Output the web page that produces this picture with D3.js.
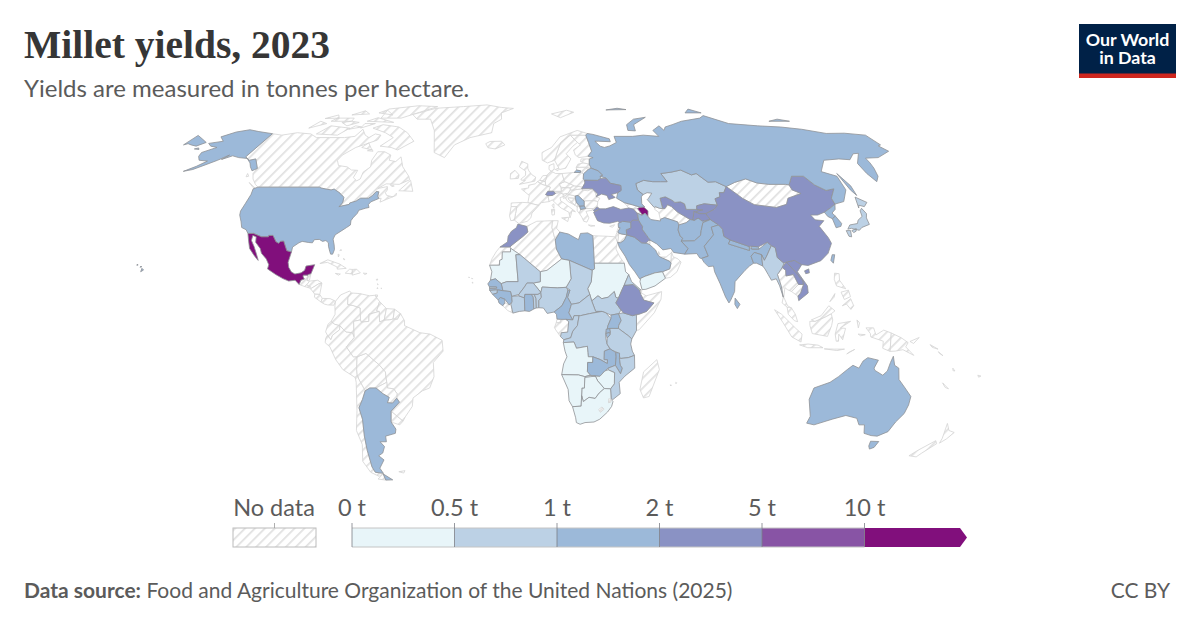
<!DOCTYPE html>
<html>
<head>
<meta charset="utf-8">
<script src="https://cdn.jsdelivr.net/npm/d3@7"></script>
<style>
  html, body { margin: 0; padding: 0; background: #fff; }
  text { font-family: Lato, sans-serif; }
</style>
</head>
<body>
<svg id="chart" width="1200" height="627"></svg>
<script>
// yields in t/ha, read from the map colours (estimates inside each bin)
const countries = ["Mexico","Azerbaijan",
  "China","Ukraine","Turkey","Iraq","Morocco","Ethiopia","Uzbekistan","Kyrgyzstan","Tajikistan","Vietnam","Laos","Switzerland",
  "Russia","USA","Alaska","Argentina","Australia","Libya","Saudi Arabia","Iran","Syria","Afghanistan","Pakistan","India","Nepal","Bhutan","Bangladesh","Sri Lanka","North Korea","South Korea","Taiwan","Belarus","Serbia","North Macedonia","Senegal","Guinea","Sierra Leone","Ghana","Cameroon","Uganda","Burundi","Rwanda","Zambia","Malawi",
  "Kazakhstan","Myanmar","Japan","Mali","Chad","South Sudan","Nigeria","CAR","DR Congo","Congo","Kenya","Tanzania","Mozambique","Gambia","Guinea-Bissau","Cote d'Ivoire","Burkina Faso","Togo","Benin","Eritrea",
  "Mauritania","Niger","Sudan","Yemen","Angola","Namibia","Botswana","Zimbabwe","South Africa"];
const yields = [12.5,11,
  3,2.6,2.4,2.5,2.2,2.6,2.8,2.5,2.3,2.4,2.6,3,
  1.3,1.5,1.5,1.6,1.2,1.2,1.5,1.3,1.1,1.2,1.3,1.4,1.4,1.3,1.8,1.4,1.3,1.5,1.6,1.5,1.7,1.4,1.1,1.2,1.1,1.3,1.4,1.5,1.1,1.2,1.1,1.2,
  0.8,0.9,0.9,0.8,0.7,0.7,0.9,0.8,0.8,0.7,0.9,0.9,0.7,0.9,0.8,0.8,0.9,0.7,0.9,0.6,
  0.3,0.4,0.3,0.4,0.4,0.3,0.3,0.4,0.45];

const binEdges = [0.5,1,2,5,10];
const binColors = ["#e8f5f9","#bcd1e5","#9cb9d9","#8a92c4","#8854a5","#810f7c"];
const legendTicks = ["0 t","0.5 t","1 t","2 t","5 t","10 t"];

// country outlines, lon,lat pairs; rings split by |
const outlines = {
 "USA":"-124.7,48.4 -123,49 -95.2,49 -94.6,48.7 -92,48.3 -89.6,48 -88.4,48.3 -84.9,46.8 -84.5,46.4 -83.5,46 -82.5,45.3 -82.1,43.6 -82.5,42.6 -83.1,42 -79,42.8 -79,43.3 -76.5,44 -75,45 -71.5,45 -70.3,45.9 -69.2,47.4 -68,47.3 -67.8,45.7 -67,44.9 -70,43.7 -70.7,42.7 -70,41.7 -71.5,41.4 -74,40.7 -74.2,39.6 -75.5,38 -76,37 -75.7,35.5 -77,34.6 -79,33.3 -81,32 -81.4,30.5 -80.5,28.5 -80,26.8 -80.4,25.2 -81.2,25.2 -81.8,26.2 -82.7,28 -83,29.2 -84.2,30 -85.5,29.7 -87,30.4 -89,30.3 -89.5,29.2 -91,29.3 -93.8,29.7 -95,29.2 -97.2,27.7 -97.2,26 -99.2,26.4 -101.4,29.8 -102.7,29.7 -103.2,29 -104.5,29.6 -106.5,31.8 -108.2,31.8 -108.2,31.3 -111,31.3 -114.8,32.5 -117.1,32.5 -118.4,33.8 -120.6,34.6 -121.9,36.6 -123.8,39 -124.3,40.4 -124.1,43 -124,46.3|-156,19 -155,19.6 -155.8,20.2|-156.7,20.6 -156,20.7 -156.4,21|-158.2,21.3 -157.7,21.3 -158,21.7",
 "Alaska":"-141,69.6 -141,60.3 -137.5,59 -135,59.5 -130,55.9 -131.5,55 -134,56.5 -136,58 -139.5,59.7 -144,60 -148,60.7 -151.5,59.3 -150,61 -153,59 -156,57.5 -160,55.5 -163.5,54.8 -160,56.7 -157.5,58.7 -162,59 -164.5,60.5 -165.5,62 -161,64 -165,64.5 -168,65.6 -162,66.5 -166.5,68.3 -162,70.3 -156.5,71.3 -150,70.5|-171.5,63.4 -168.8,63.2 -170,63.8",
 "Canada":"-141,69.6 -135,69 -128,70 -120,69.5 -115,68 -108,68 -100,68 -95,68.5 -94,71.5 -90,69 -87,68 -85,69.5 -81.5,69 -81.5,67 -87,65 -90,64 -94,61 -94.7,59 -92.5,57 -88,56.5 -85,55.3 -82,55.2 -82.3,52.5 -80,51.3 -78.8,52 -79,54.5 -76.8,56.5 -78,59 -77.5,62.3 -74,62.3 -70,61 -69.5,59 -66,58.5 -64.5,60.3 -61.5,56.5 -57,53 -56,51.7 -60,50 -66,50.2 -69,48.5 -65,49.2 -64.5,48 -65,47 -64,46 -61,45.5 -60,46.8 -59.8,46 -63.5,44.6 -66,43.6 -66,45 -67,44.9 -67.8,45.7 -68,47.3 -69.2,47.4 -70.3,45.9 -71.5,45 -75,45 -76.5,44 -79,43.3 -79,42.8 -83.1,42 -82.5,42.6 -82.1,43.6 -82.5,45.3 -83.5,46 -84.5,46.4 -84.9,46.8 -88.4,48.3 -89.6,48 -92,48.3 -94.6,48.7 -95.2,49 -123,49 -125,50 -128,52 -130,54 -130,55.9 -135,59.5 -137.5,59 -141,60.3|-59.3,47.7 -55.5,51.5 -53,47.5|-62,66.5 -68,63 -72,64 -78,64.5 -74,68 -80,70 -89,72 -85,73.5 -75,72.5 -68,70|-117,69.5 -105,69 -102,72 -114,73|-125,72 -118,74 -123,75|-90,76.5 -78,76.5 -62,82.5 -75,83 -92,81|-117,75 -105,75 -106,76.5 -116,76.5|-87,64 -81,63 -85,65.8|-96,72 -90,74 -96,74|-128.5,50.7 -123.5,48.4 -125,48.8|-96,75 -80,74.5 -92,76.7|-100,73 -96,72.5 -102,71.5|-95,79 -85,78 -92,80.5|-64,49.9 -62,49.4 -63,49.2|-110,78 -100,78.5 -105,80|-123,76.3 -118,78 -115,76.5|-110,74.5 -105,73 -100,74.5 -105,75|-83,62.7 -80,62.5 -81,63.2|-132.5,54 -131,53 -132,52.8",
 "Greenland":"-73,78.2 -68,76 -60,76 -54,71 -51,66 -49,62 -43,60 -40,65 -33,68 -22,70 -22,74 -18,76 -19,79 -12,81.4 -20,82 -30,83.5 -45,82.5 -62,81.5",
 "Iceland":"-24,65.5 -22,66.4 -16,66.5 -14,65 -18.7,63.4 -22.5,63.9",
 "Mexico":"-117.1,32.5 -114.8,32.5 -111,31.3 -108.2,31.3 -108.2,31.8 -106.5,31.8 -104.5,29.6 -103.2,29 -102.7,29.7 -101.4,29.8 -99.2,26.4 -97.2,26 -97.8,22.3 -97.2,20.5 -95.9,18.9 -94.4,18.2 -92,18.6 -90.7,19.5 -90.4,21 -87,21.5 -87.6,19.5 -88,18.3 -89.1,18 -89.1,17.8 -91,17.8 -91,17.2 -90.4,16.4 -91.7,16 -92.2,14.5 -94,16 -96.5,15.7 -99,16.6 -102,18 -105.6,20 -105.4,21.5 -106.8,23.5 -109.2,25.5 -110.2,27.2 -112.7,29.4 -113.2,31.3 -114.8,31.8 -114.6,30 -112.9,27.9 -111.3,25.5 -109.9,23 -110.4,23.3 -112.2,25 -114.5,27.2 -115.7,29.8",
 "Guatemala":"-92.2,14.5 -91.7,16 -90.4,16.4 -91,17.2 -91,17.8 -89.1,17.8 -89.2,15.9 -88.2,15.7 -89.2,14.3 -90,13.8",
 "Belize":"-89.1,17.8 -89.1,18 -88,18.3 -88.3,16 -89.2,15.9",
 "Honduras":"-89.2,14.3 -88.2,15.7 -85,16 -83.2,15 -84.5,14.7 -87.5,13",
 "El Salvador":"-90,13.8 -89.2,14.3 -87.7,13.8 -87.7,13.2",
 "Nicaragua":"-87.5,13 -84.5,14.7 -83.2,15 -83.7,11 -85.7,11.1",
 "Costa Rica":"-85.7,11.1 -83.7,11 -82.6,9.6 -83,8.3 -85.7,10",
 "Panama":"-83,8.3 -82.6,9.6 -79.5,9.5 -77.3,8.6 -77.9,7.2 -80.4,7.3 -81.7,7.6",
 "Cuba":"-85,21.9 -82,23.2 -77,21.7 -74.2,20.2 -77.7,19.9 -78,20.7 -82,22.3",
 "Bahamas":"-78.2,25.2 -77.7,25 -77.9,24.2|-77.4,26.8 -77,26.6 -77.8,26.5|-75.6,23.7 -75.2,23.2 -75.9,23.5",
 "Haiti":"-74.4,18.5 -72.8,19.9 -71.7,19.8 -71.6,18.2",
 "Dominican Republic":"-71.7,19.8 -70,19.9 -68.4,18.6 -71.5,17.8",
 "Jamaica":"-78.3,18.4 -76.3,18.2 -77,17.8",
 "Puerto Rico":"-67.2,18.5 -65.7,18.4 -66.5,18",
 "Trinidad":"-61.9,10.8 -60.9,10.8 -61,10.1",
 "Lesser Antilles":"-61.8,16.3 -61.2,16.4 -61.5,15.9|-61.2,14.8 -60.9,14.4 -61.1,14.4|-61.1,13.4 -60.9,13.1 -61.3,13.1|-59.7,13.3 -59.4,13.1 -59.6,13",
 "Colombia":"-77.3,8.6 -75.5,10.8 -72,12.2 -71.3,11.5 -72.5,10 -72.5,7.5 -70,7 -67.5,6.2 -67.3,2 -70,1.5 -69.8,-4.2 -70.5,-2.5 -73,-2.3 -75.3,-0.1 -77.5,0.5 -78.8,1.5 -77.3,4 -77.5,7",
 "Venezuela":"-71.3,11.5 -68,11.3 -64,10.5 -62,10.7 -60,8.5 -61,5.2 -60,5 -64,4 -64,1.5 -67,1.2 -67.3,2 -67.5,6.2 -70,7 -72.5,7.5 -72.5,10",
 "Guyana":"-60,8.5 -57.2,6 -58,1.9 -59.8,1.3 -60,5 -61,5.2",
 "Suriname":"-57.2,6 -54,5.8 -54.5,2.3 -56,2 -58,1.9",
 "French Guiana":"-54,5.8 -51.6,4.2 -52.8,2.2 -54.5,2.3",
 "Ecuador":"-78.8,1.5 -77.5,0.5 -75.3,-0.1 -75.5,-1.5 -78.3,-3.4 -79,-5 -80.3,-3.4 -81,-2.2 -80,0.5",
 "Peru":"-81,-4.5 -80.3,-3.4 -79,-5 -78.3,-3.4 -75.5,-1.5 -75.3,-0.1 -73,-2.3 -70.5,-2.5 -69.8,-4.2 -73,-7.5 -70.5,-11 -69,-11 -69.5,-15.5 -69.5,-17.5 -70.4,-18.3 -75,-15.5 -77.5,-12 -79.5,-7.5 -81.3,-6",
 "Bolivia":"-69,-11 -65.4,-9.8 -60.5,-13.8 -58.2,-16.3 -58,-20 -62.5,-22 -65,-22 -67,-23 -69,-19 -69.5,-17.5 -69.5,-15.5",
 "Brazil":"-51.6,4.2 -50,1.7 -50,0 -44,-2.5 -40,-3 -35.3,-5.2 -35,-9 -39,-13 -39,-18 -41,-22 -44,-23 -48,-25.5 -48.7,-28.5 -52,-32 -53.4,-33.7 -57.6,-30.2 -53.7,-27 -54.6,-25.6 -54.3,-24 -55.5,-22.3 -58,-22 -58,-20 -58.2,-16.3 -60.5,-13.8 -65.4,-9.8 -69,-11 -70.5,-11 -73,-7.5 -69.8,-4.2 -70,1.5 -67.3,2 -67,1.2 -64,1.5 -64,4 -60,5 -59.8,1.3 -58,1.9 -56,2 -54.5,2.3 -52.8,2.2",
 "Paraguay":"-58,-20 -58,-22 -55.5,-22.3 -54.3,-24 -54.6,-25.6 -56.5,-27.3 -58.6,-27.2 -57.6,-25.3 -60,-24 -62.5,-22",
 "Uruguay":"-57.6,-30.2 -53.4,-33.7 -55,-35 -58.4,-34",
 "Chile":"-69.5,-17.5 -69,-19 -67,-23 -68.5,-26 -70.5,-29 -70,-33 -71,-39 -71.7,-44 -72.3,-50 -71.9,-52 -68.4,-52.4 -71,-53.5 -74,-52 -75.5,-48 -73,-42 -73.7,-37 -71.5,-30 -70.2,-20 -70.4,-18.3|-68.6,-52.6 -68.6,-54.9 -72,-54.5",
 "Argentina":"-65,-22 -62.5,-22 -60,-24 -57.6,-25.3 -58.6,-27.2 -56.5,-27.3 -54.6,-25.6 -53.7,-27 -57.6,-30.2 -58.4,-34 -57,-36.5 -57.6,-38 -62,-39 -62.3,-41 -65,-41 -63.7,-42.7 -65.3,-45 -67.5,-46 -65.8,-47.5 -69,-50.5 -68.4,-52.4 -71.9,-52 -72.3,-50 -71.7,-44 -71,-39 -70,-33 -70.5,-29 -68.5,-26 -67,-23|-68.6,-52.6 -65.3,-54.8 -68.6,-54.9",
 "Falklands":"-61,-51.8 -58,-51.4 -59,-52.3",
 "Morocco":"-5.9,35.8 -2.2,35 -1.7,33 -3.6,31.5 -8.7,28 -8.7,27.7 -13,27.7 -10,29.5 -9.8,31.5 -8.5,33.3 -6.5,34.5",
 "Western Sahara":"-13,27.7 -8.7,27.7 -8.7,27.3 -8.7,26 -12,26 -12,23.4 -13,23 -13,21.3 -17,21.3 -16,23.7 -14.5,26",
 "Mauritania":"-17,21.3 -13,21.3 -13,23 -12,23.4 -12,26 -8.7,26 -8.7,27.3 -4.8,25 -6.5,25 -5.5,15.5 -10,15.5 -12.2,14.8 -14.5,16.5 -16.5,16 -16,19",
 "Algeria":"-1.7,33 -2.2,35 2,36.8 8.6,37 8.3,34.5 9.5,30.2 9.9,27 11.9,23.5 6,19.5 3.3,19 -4.8,25 -8.7,27.3 -8.7,28 -3.6,31.5",
 "Tunisia":"8.6,37 11,37 10.2,34.3 11.5,33 9.5,30.2 8.3,34.5",
 "Libya":"9.5,30.2 11.5,33 15,32.3 19,30.3 20,32.5 23,32.7 25,31.7 25,20 24,19.5 15,23 11.9,23.5 9.9,27",
 "Egypt":"25,31.7 31,31.5 34.2,31.3 34.9,29.4 34,27 35.5,24 37,22 25,22",
 "Sudan":"24,19.5 25,20 25,22 37,22 37.3,19 38.5,18 36.5,14.3 35.5,12.5 34,9.6 33,10 32.5,12 30,10 27.5,9.5 26,10.5 23.5,8.7 22.8,11 22,13 23.5,15.5",
 "South Sudan":"23.5,8.7 26,10.5 27.5,9.5 30,10 32.5,12 33,10 34,9.6 33,8 35,5.5 34,4.2 31,3.7 29,4.5 27.5,5 25,5",
 "Chad":"15,23 24,19.5 23.5,15.5 22,13 22.8,11 18.5,8 15.5,7.5 14,10 15,12.5 13.5,13.5 15.5,16.5",
 "Niger":"11.9,23.5 15,23 15.5,16.5 13.5,13.5 10,13.3 4,13.6 3.5,11.7 0.5,15 3.3,15.5 3.3,19 6,19.5",
 "Mali":"-4.8,25 3.3,19 3.3,15.5 0.5,15 -2,15 -3,13.6 -5.2,11 -8,10.3 -8.5,12 -11.5,12.3 -12.2,14.8 -10,15.5 -5.5,15.5 -6.5,25",
 "Senegal":"-16.5,16 -14.5,16.5 -12.2,14.8 -11.5,12.3 -13.7,12.6 -16.7,12.4 -16.8,13.1 -14,13.2 -14,13.6 -16.8,13.6 -17.5,14.7",
 "Gambia":"-16.8,13.6 -14,13.6 -14,13.2 -16.8,13.1",
 "Guinea-Bissau":"-16.7,12.4 -13.7,12.6 -13.7,11.5 -15.5,11",
 "Guinea":"-13.7,12.6 -11.5,12.3 -8.5,12 -8,10.3 -7.8,8.5 -9,7.3 -10.7,9.3 -12.5,9.9 -13.3,9 -15.5,11 -13.7,11.5",
 "Sierra Leone":"-13.3,9 -12.5,9.9 -10.7,9.3 -10.7,8 -11.5,7 -13,8",
 "Liberia":"-11.5,7 -10.7,8 -9,7.3 -8.3,7.5 -7.5,4.4 -9.5,5.3",
 "Cote d'Ivoire":"-7.5,4.4 -8.3,7.5 -7.8,8.5 -8,10.3 -5.2,10.5 -3,9.8 -2.8,5.2 -5,5",
 "Burkina Faso":"-5.2,11 -3,13.6 -2,15 0.5,15 3.5,11.7 2.4,11 0.9,11 -0.2,11 -2.8,11 -3,9.8 -5.2,10.5",
 "Ghana":"-2.8,5.2 -3,9.8 -2.8,11 -0.2,11 0.5,10 0.7,6 1,6 -1,5",
 "Togo":"-0.2,11 0.9,11 1.6,9.5 1.7,6.2 1,6 0.7,6 0.5,10",
 "Benin":"0.9,11 2.4,11 3.5,11.7 3.7,10 2.7,8.8 2.7,6.3 1.7,6.2 1.6,9.5",
 "Nigeria":"2.7,6.3 2.7,8.8 3.7,10 3.5,11.7 4,13.6 10,13.3 13.5,13.5 14.2,12.5 13.5,10 11.8,7 8.7,4.8 6,4.3 4.5,6.2",
 "Cameroon":"8.7,4.8 11.8,7 13.5,10 14.2,12.5 15,12.5 14,10 15.5,7.5 14.5,4.5 16,2 13.3,2.2 11.3,2.2 9.8,2.3 9.6,4",
 "CAR":"14.5,4.5 15.5,7.5 18.5,8 22.8,11 23.5,8.7 25,5 27.5,5 22.5,4.2 19,3.5 18.5,3.5 16.5,3.5 16,2",
 "Equatorial Guinea":"9.8,2.3 11.3,2.2 11.3,1 9.5,1",
 "Gabon":"9.5,1 11.3,1 11.3,2.2 13.3,2.2 14.4,1.4 14,-2.3 11.5,-2.5 11.2,-3.9 9.3,-1.5 8.8,-0.7",
 "Congo":"13.3,2.2 16,2 16.5,3.5 18.5,3.5 17.8,0 16,-2 15.2,-4.3 12.5,-5 11.2,-3.9 11.5,-2.5 14,-2.3 14.4,1.4",
 "DR Congo":"18.5,3.5 19,3.5 22.5,4.2 27.5,5 29,4.5 31,2.5 29.8,0 29.5,-1.2 28.9,-2.5 29,-4.5 29.5,-6.5 30.7,-8.2 28.5,-9 28.5,-12 29.8,-12 29.8,-13.4 27,-12 24,-11 22.2,-11 22,-9.5 21.8,-7.3 17.5,-8 16.5,-5.8 12.3,-6 12.5,-5 15.2,-4.3 16,-2 17.8,0",
 "Uganda":"31,3.7 34,4.2 35,1.8 34,0 33.9,-1 30.5,-1 29.5,-1.2 29.8,0 31,2.5",
 "Kenya":"34,4.2 35.8,4.5 39.5,3.5 41,3.9 41,-1.7 39.2,-4.7 37.7,-3.5 33.9,-1 34,0 35,1.8",
 "Rwanda":"29,-1.4 30.5,-1 30.8,-2.4 29.2,-2.8",
 "Burundi":"29,-2.8 30.4,-2.4 30.7,-3.2 29.5,-4.4",
 "Tanzania":"30.5,-1 33.9,-1 37.7,-3.5 39.2,-4.7 38.8,-6.5 39.5,-9 40.4,-10.5 38,-11.3 34.9,-11.6 33.9,-9.6 31,-8.5 29.5,-6.5 29.5,-4.4 30.7,-3.2 30.8,-2.4",
 "Ethiopia":"36.5,14.3 37.5,14.3 40,14.5 42.5,12.5 42.9,11 44,9 48,8 45,5 42,4 41,3.9 39.5,3.5 35.8,4.5 35,5.5 33,8 34,9.6 35.5,12.5",
 "Eritrea":"38.5,18 39.5,15.5 43,12.6 42.5,12.5 40,14.5 37.5,14.3 36.5,14.3",
 "Djibouti":"42.5,12.5 43.4,12.6 43.2,11.5 42.9,11",
 "Somalia":"42.9,11 43.2,11.5 45,10.5 51.2,12 50.8,9.3 48,4.5 42,-1.5 41,-1.7 41,3.9 42,4 45,5 48,8 44,9",
 "Angola":"12.3,-6 16.5,-5.8 17.5,-8 21.8,-7.3 22,-9.5 22.2,-11 24,-11 24,-13 22,-13 22,-16.2 23.4,-17.6 21,-18 18.5,-17.4 11.8,-17.3 12.5,-13.5 13.8,-11 13,-9",
 "Zambia":"22,-13 24,-13 24,-11 27,-12 29.8,-13.4 29.8,-12 28.5,-12 28.5,-9 30.7,-8.2 33,-9.5 33.2,-11 33,-14 30.2,-15 28.9,-16 27,-17.9 25.2,-17.8 23.4,-17.6 22,-16.2",
 "Malawi":"33,-9.5 34.5,-9.7 34.5,-11.5 35,-14 35.8,-15 35.2,-17 34.3,-15.8 33,-14 33.2,-11",
 "Mozambique":"34.9,-11.6 38,-11.3 40.4,-10.5 40.7,-15 37,-17.8 34.8,-20 35.5,-24 32.8,-26 32,-26 31.5,-22.3 32.9,-20.5 32.8,-16.6 30.2,-15.6 30.2,-15 33,-14 34.3,-15.8 35.2,-17 35.8,-15 35,-14 34.5,-11.5",
 "Zimbabwe":"25.2,-17.8 27,-17.9 28.9,-16 30.2,-15.6 32.8,-16.6 32.9,-20.5 31.5,-22.3 29,-22.2 26.2,-19.5",
 "Botswana":"21,-18 23.4,-17.6 25.2,-17.8 26.2,-19.5 29,-22.2 27,-23.8 25.5,-25.7 23,-25.3 20.8,-26.8 20,-24.7 20,-22 21,-22",
 "Namibia":"11.8,-17.3 18.5,-17.4 21,-18 23.4,-17.6 25.2,-17.8 21,-18.3 21,-22 20,-22 20,-28.4 16.5,-28.6 15,-26.5 14.5,-22.5",
 "South Africa":"16.5,-28.6 20,-28.4 20,-24.7 20.8,-26.8 23,-25.3 25.5,-25.7 27,-23.8 29,-22.2 31.5,-22.3 32,-26 32.8,-26.8 32.4,-28.5 30.9,-30.5 28,-33 25.7,-34 22,-34.2 20,-34.8 18.4,-34.2 18,-32.5",
 "Madagascar":"49.3,-12 50.5,-15.5 47.2,-25 45,-25.5 43.3,-22.5 44.3,-16.3",
 "Cape Verde":"-25.2,17.1 -24.8,17 -25,16.8|-24,16.7 -23.6,16.6 -23.7,16.4|-23.7,15.3 -23.4,15.2 -23.5,14.9",
 "Mauritius":"57.4,-20 57.8,-20.2 57.5,-20.5",
 "Reunion":"55.3,-20.9 55.8,-21 55.5,-21.3",
 "Saudi Arabia":"34.9,29.4 36,29.2 37.5,30 38,30.5 39,32 42,31.2 44.7,29.2 46.5,29.1 48,28.5 48.8,27.7 50,26.7 50.8,24.8 51.5,24.2 55.2,22.7 55.7,22 55,20 52,19 49,18.6 45,17.4 43.2,16.7 42.8,16.4 41,19 39,21.5 37.5,24.5 35.5,27.5",
 "Yemen":"43.2,16.7 45,17.4 49,18.6 52,19 53,16.7 48.7,14 45,12.8 43.5,12.7 42.8,15.5",
 "Oman":"52,19 55,20 55.7,22 56,24.5 56.4,26 56.8,24.3 58.7,23.5 59.8,22.4 57.8,19 55,17 53,16.7",
 "UAE":"51.5,24.2 55.2,22.7 55.7,22 56,24.5 56.3,25.7 54,24.2",
 "Qatar":"50.8,24.8 51.6,25 51.2,26.1",
 "Kuwait":"46.5,29.1 48,28.5 48.2,29.9 47.7,30",
 "Iraq":"39,32 39,33.8 41,34.4 41.3,36.5 42.4,37.2 44.8,37.2 45.5,35.8 46,35 45.7,34 47.7,31 48.5,30 47.7,30 46.5,29.1 44.7,29.2 42,31.2",
 "Jordan":"34.9,29.4 35.5,31.5 35.6,32.7 36.8,32.3 39,32 38,30.5 37.5,30 36,29.2",
 "Israel":"34.2,31.3 34.9,29.4 35.5,31.5 35.6,33.2 35,32.8",
 "Lebanon":"35,33 35.6,33.2 36.6,34.5 35.9,34.6",
 "Syria":"35.9,34.6 36.6,34.5 35.6,33.2 35.6,32.7 36.8,32.3 39,32 39,33.8 41,34.4 41.3,36.5 38,36.8 36.6,36.3 36,36",
 "Turkey":"26.2,40 26.8,38.5 27.5,37 30,36.2 32.5,36.1 36,36.8 36.6,36.3 38,36.8 41.3,36.5 42.4,37.2 44.8,37.2 44.6,39.7 43.5,41.1 41.5,41.5 38,41 35,42 31.5,41.2 29,41.2 27.5,40.5|26.2,40.7 28,41.9 28.9,41.3 26.6,40.3",
 "Georgia":"40,43.4 43.5,42.6 46.5,41.8 45.2,41.3 43.5,41.1 41.5,41.5",
 "Armenia":"43.5,41.1 45.2,41.3 46.5,39.5 46.5,38.9 44.8,39.7",
 "Azerbaijan":"46.5,41.8 48,41.9 49.5,40.5 49,38.5 48,39.6 46.5,38.9 46.5,39.5 45.2,41.3",
 "Iran":"44.8,39.7 46.5,38.9 48,39.6 49,38.5 50,37.4 53.9,36.9 54,37.5 56,38.1 61,36.6 61.2,35.5 60.5,33.7 60.9,31.5 61.8,30.8 60.9,29.8 63.3,27.2 61.6,25.2 57.2,25.8 56.3,27.2 53,26.7 50.8,28.8 48.5,30 47.7,31 45.7,34 46,35 45.5,35.8 44.8,37.2",
 "Turkmenistan":"53,42 54.7,41.4 56,41.3 57,41.3 58.5,42.7 60,42 62,40 66.5,37.4 64.5,36.3 61.2,35.5 61,36.6 56,38.1 54,37.5 53.9,40 52.5,41",
 "Uzbekistan":"56,45 58.5,45.5 61,44.3 62,43.5 64.5,43.7 66,43 66,41 70.5,41 73,40.8 71,40.5 69.5,40 69,40.3 68,38 67.7,37.2 66.5,37.4 62,40 60,42 58.5,42.7 57,41.3 56,41.3",
 "Kazakhstan":"47,48 47,50.3 51,51.5 55,51 58.5,51 61.5,51 60,54 65,54.5 70,55.3 74,53.5 76.5,54 80,50.8 83.5,51 87.3,49.2 85,47 83,47 82.5,45.5 80,44.8 80,42.5 74.5,43 71,42.3 70.5,41 66,41 66,43 64.5,43.7 62,43.5 61,44.3 58.5,45.5 56,45 56,41.3 54.7,41.4 53,42 52.5,41.7 50.3,44.5 51,45 53,46.8 51,47 49,46.3",
 "Kyrgyzstan":"71,42.3 74.5,43 80,42.5 78,41 73.8,39.5 71,39.5 69.5,40 71,40.5 73,40.8 70.5,41",
 "Tajikistan":"69,40.3 69.5,40 71,39.5 73.8,39.5 75,37.4 71.5,36.8 70,37.9 68,37 67.7,37.2 68,38",
 "Afghanistan":"61.2,35.5 64.5,36.3 66.5,37.4 67.7,37.2 68,37 70,37.9 71.5,36.8 75,37.4 71.5,36.3 70,33.5 69.3,31.8 66.3,29.9 60.9,29.8 61.8,30.8 60.9,31.5 60.5,33.7",
 "Pakistan":"61.6,25.2 66.5,25.4 67.5,23.8 68.2,23.7 71,24.5 70,28 74.7,32 74.5,34.7 77.8,35.5 75,37.4 71.5,36.3 70,33.5 69.3,31.8 66.3,29.9 60.9,29.8 63.3,27.2",
 "India":"68.2,23.7 71,24.5 70,28 74.7,32 74.5,34.7 77.8,35.5 79,34 78.8,31.5 81,30.2 80,28.8 88,26.5 88.2,27.9 89,27 92,27 96,29.4 97.3,28.2 94.5,24.5 93.3,23 92.5,25 89.8,25.8 88.2,24.5 88.8,22 87,21 85,19.5 80.5,15.5 80,12 78.2,8.9 77.5,8 76.3,10 74.5,14.8 72.8,19 72.6,21 70.5,20.8 69,22.3",
 "Nepal":"80,28.8 81,30.2 88.2,27.9 88,26.5",
 "Bhutan":"89,27 89,28 92,27.8 92,27",
 "Bangladesh":"88.2,24.5 89.8,25.8 92.5,25 92.3,21 90,22 88.8,22",
 "Sri Lanka":"80,9.7 81.8,7.5 80.7,6 79.8,7.5",
 "Myanmar":"92.3,21 92.5,25 93.3,23 94.5,24.5 97.3,28.2 98.7,27.5 98.7,24 101,22 100,20.5 97.7,18 98.6,14 99,10 98,14 97,16.5 95,16 94,18 93,20",
 "Thailand":"100,20.4 101.2,19.5 101,17.5 104,18 105.5,14.5 102.5,12 100.9,12.7 100,13.4 99.2,10 100.5,7 102,6.2 101,5.7 100.3,6.5 98.4,8 99,10 98.6,14 97.7,18",
 "Laos":"100,20.5 102,22.4 105,19 107.5,15.7 107.5,14.5 105.5,14.5 104,18 101,17.5 101.2,19.5",
 "Vietnam":"102,22.4 105.3,23 108,21.5 105.8,19 109,14 109,11.5 105,8.8 104.8,10.4 106,11.5 107.5,14.5 107.5,15.7 105,19",
 "Cambodia":"102.5,12 105.5,14.5 107.5,14.5 106,11.5 104.8,10.4",
 "China":"73.8,39.5 78,41 80,42.5 80,44.8 82.5,45.5 83,47 85,47 87.3,49.2 91,46 92,45 96,42.7 105,41.7 110,42.8 112,45 119,46.7 116,48 116,49.8 120,53 125.5,53 127.5,49.8 131,47.8 135,48.4 131,45 131,42.9 128,41.5 124.4,40 121,39 118,39 119,37.3 122.5,37 119.5,35 121.5,31 122,29 119.5,25.5 116,22.9 110.5,21.2 108,21.5 105.3,23 102,22.4 101,22 98.7,24 98.7,27.5 97.3,28.2 96,29.4 92,27.8 89,28 88.2,27.9 81,30.2 78.8,31.5 79,34 77.8,35.5 75,37.4|108.7,19.3 110.5,20 110.5,18.6 109,18.3",
 "Mongolia":"87.3,49.2 92,50.7 98,52 102,50.5 107,50 114.5,50 116,49.8 116,48 119,46.7 112,45 110,42.8 105,41.7 96,42.7 92,45 91,46",
 "North Korea":"124.4,40 128,41.5 131,42.9 129.7,41 127.5,39.7 128.3,38.6 126.5,37.7 125,38.5",
 "South Korea":"126.5,37.7 128.3,38.6 129.4,36 128.5,35 126.3,34.5",
 "Japan":"130.9,34 132.5,35.5 136,36 137,37.2 139.5,38.5 140,40.5 141.3,41.4 142,39.5 141,38 140.8,35.7 137,34.6 135.5,33.6 132.5,34.3|130,33.5 131.8,33.5 131.2,31.3 130.2,31.5|132.3,33.5 134.5,34.2 134,33.3 132.8,32.8|140.2,41.5 141.7,45.4 145.3,43.5 143,42 141,42.5",
 "Taiwan":"121,25 122,25 120.8,22 120,23",
 "Russia":"30,69.7 33,69.3 41,67.5 41,66.3 35,66.5 33,66.5 35,64.5 37,64 40,64.6 44,66 44,68.5 54,68.5 60,69 68,68.5 66.8,71 72,73 73,71 75,72.5 80,73.5 87,75 100,76.5 104,77.7 113,74 128,73 140,72.5 150,71.5 160,69.7 170,69.8 179.9,69 179.9,65 178,64.6 179.5,62.5 170,60 163.5,59.8 163,58 162,56 160,53 157,51 156,54 156.7,57.8 163,61.7 160,61.5 155,59.2 150,59.5 142,59 135.5,54.7 141,53 140,48 135.5,43.8 131,42.9 131,45 135,48.4 131,47.8 127.5,49.8 125.5,53 120,53 116,49.8 114.5,50 107,50 102,50.5 98,52 92,50.7 87.3,49.2 83.5,51 80,50.8 76.5,54 74,53.5 70,55.3 65,54.5 60,54 61.5,51 58.5,51 55,51 51,51.5 47,50.3 47,48 49,46.3 48,45.5 47.5,43 48.5,41.9 46.5,41.8 43.5,42.6 40,43.4 37,45 38,47 39.7,47.8 40,49.6 35.5,50.4 34,52.3 31.5,53 32.7,53.4 31,55 28,56 27.5,57.5 28,59.5 30,60 27.7,60.5 30,62.5 29.5,66 29,69|-179.9,68.9 -175,67.5 -170,66 -172.5,64.5 -176,65 -178.5,65.5 -179.9,65|53,71 57,70.8 58,73.5 68,76.9 60,76 54,73.5|142,54 143.5,49.5 143,46 142,48|95,79 105,79 100,81|47,80.5 60,80.7 55,81.5|138,75 150,75 145,76|19.7,54.4 22.7,54.4 22.8,55 21,55.3",
 "Ukraine":"22.2,48.4 24,50.5 24,51.6 30,51.5 31.5,52.2 34,52.3 35.5,50.4 40,49.6 39.7,47.8 38,47 35,46.3 36.5,45.3 33.5,44.5 33,46 30.7,46.5 28.2,45.5 29,46.5 27,48.4",
 "Belarus":"23.5,52 24,51.6 30,51.5 31.5,52.2 31.5,53 32.7,53.4 31,55 28,56 26.5,55.5 24,53.9",
 "Moldova":"27,48.4 29,46.5 28.2,45.5 28.1,46.8",
 "Romania":"20.3,46 22.7,47.9 24.9,47.7 27,48.4 28.1,46.8 28.2,45.5 29.7,45 28.6,43.8 27,44.1 22.7,44 22,44.5",
 "Bulgaria":"22.7,44 27,44.1 28.6,43.8 28,41.9 26.2,41.3 23,41.3 22.5,42.3",
 "Greece":"20,39.7 21,41 23,41.3 26.2,41.3 26,40.8 23,40.3 24,38 23,36.5 21.7,36.8 21,38.3|23.5,35.5 26.2,35.2 24.5,35",
 "Albania":"19.4,41.9 20.5,42.2 20.8,40.9 20,39.7 19.3,40.5",
 "North Macedonia":"20.5,42.2 22.5,42.3 23,41.3 21,41 20.8,40.9",
 "Serbia":"19,45.8 20.3,46 22,44.5 22.7,44 22.5,42.3 20.5,42.2 19.2,43.5 19,45",
 "Bosnia":"16,45.2 19,45 19.2,43.5 18.5,42.5 15.8,44.7",
 "Montenegro":"18.5,42.5 19.4,41.9 20.5,42.2 19.2,43.5",
 "Croatia":"13.6,45.4 15.6,46.5 19,45.8 19,45 16,45.2 15.8,44.7 18.5,42.5 15.5,43.9 14.5,45.2 13.8,44.9",
 "Slovenia":"13.6,45.5 13.7,46.5 16,46.8 15.6,46.5",
 "Hungary":"16,46.8 17,48 18.8,48 22.2,48.4 22.7,47.9 20.3,46 19,45.8 15.6,46.5",
 "Slovakia":"17,48 17.5,48.8 19,49.5 22.5,49.1 22.2,48.4 18.8,48",
 "Czechia":"12.2,50.2 15,51 18.8,49.7 17,48.7 14.8,48.8 13,49",
 "Austria":"9.6,47.3 13,47.5 13,48.6 14.8,48.8 17,48.7 17,48 16,46.8 13.7,46.5 12.2,47 10.5,46.9",
 "Switzerland":"6,46.3 7,47.5 9.6,47.5 10.4,46.7 9,46 7,45.9",
 "Germany":"6,51 7,53.5 9,54.9 11,54 14,54 14.8,51 12.2,50.2 13,48.7 13,47.5 9.6,47.5 7.5,47.6 8.2,49 6.2,49.5",
 "Poland":"14,54 19.7,54.4 22.8,54.4 24,53.9 23.5,52 24,50.5 22.7,49 19,49.5 15,51 14.8,51",
 "Lithuania":"21,55.3 22.8,55 24,53.9 26.5,55.5 25,56.4 21,56.3",
 "Latvia":"21,56.3 25,56.4 28,56 27.5,57.5 25,58 22,57.5",
 "Estonia":"23.5,58.5 25,58 27.5,57.5 28,59.5 24,59.5",
 "Finland":"21.5,61 21,63 25,65 23.7,66 20.6,69 29,69 29.5,66 30,62.5 27.7,60.5 23,60",
 "Sweden":"11,59 13,55.5 16,56 19,59.5 17,61.5 21,64.5 23.7,66 20.6,69 15,66 12.5,62",
 "Norway":"5,59 7.5,58 11,59 12.5,62 15,66 20.6,69 29,69 30,69.7 25,71 15,68.3 10,64 5,62|12,78.5 22,80.3 26,79.3 17,76.7",
 "Denmark":"8.2,57 10.5,57.7 10.5,55.5 9,54.9 8,55.5|11,55.5 12.5,56 12.2,55",
 "Netherlands":"3.5,51.5 6,51 7,53.3 5,53.2",
 "Belgium":"2.5,51 3.5,51.5 6,51 6.2,49.6 4.5,50",
 "France":"2.5,51 4.5,50 6.2,49.5 8.2,49 7.5,47.6 6,46.3 7,45.9 7.5,43.8 4,43.4 3,42.4 -1.8,43.4 -1.2,46 -4.7,48.3 -1.5,48.7 -1.5,49.7 1.5,50.2|8.6,42.5 9.5,43 9.4,41.4",
 "Spain":"-1.8,43.4 3,42.4 0,39.7 -0.5,38 -2,36.8 -5.5,36 -7.4,37.2 -7,39.5 -6.5,42 -9,42 -9,43.3 -4,43.5",
 "Portugal":"-7.4,37.2 -7,39.5 -6.5,42 -9,42 -9.5,38.7 -8.9,37",
 "Italy":"7,45.9 9,46 10.4,46.7 12.2,47 13.7,46.5 13.7,45.6 12.3,45.2 12.5,44 13.5,43.5 16,41.9 18.5,40.2 17,40.5 16.5,39 16,38 15.7,40 12.5,41.5 10.5,43 8.8,44.4 7.5,43.8|12.5,38 15.5,38.2 15,36.7|8.3,41 9.7,41 9.5,39.1 8.5,39",
 "UK":"-5.7,50 1.3,51.2 1.7,52.7 0,53.5 -1.5,55 -2,56 -2,57.6 -5,58.6 -6,56.5 -3,54.9 -3,53.3 -5,52 -5,51.6 -3,51.4",
 "Ireland":"-10,52 -6.3,52.2 -6,53.5 -8,55.2 -10,54",
 "Cyprus":"32.3,35 34.5,35.6 33.5,34.7",
 "Indonesia":"95.3,5.6 98,4 103.5,-1 106,-3 105.7,-5.8 102,-4 98.5,1|105.2,-6.8 108.5,-6.5 112.5,-6.9 114.5,-7.8 108.5,-7.8|109,1.5 111,1.5 115,3 117.5,4.2 118,2 117.5,0 116,-3.8 113,-3.3 110,-2.8 109,0|119.5,-5.5 119,-3 120,0.7 125,1.5 121,-0.8 123,-1 122,-5 120.4,-3 120.4,-5.5|131,-0.8 134,-0.8 135,-3.3 138,-1.6 141,-2.6 141,-9.1 138,-8 138,-5.5 133,-4 132.8,-2.8|115,-8.2 119,-8.3 123,-8.3 120,-8.8|127.5,2 128.5,1 128,-0.8|128,-3 130.8,-3.2 129,-3.6",
 "Timor":"124,-10 127,-8.4 125,-9.3",
 "PNG":"141,-2.6 145,-4.3 147.8,-6 147,-7.5 150.5,-10.5 146,-8.5 143,-9 141,-9.1|148.5,-5.6 152,-4.2 150,-6.3",
 "Malaysia":"100.3,6.5 102,6.2 103.4,4 104.2,1.4 103,1.7 100.6,4|109.6,2 111,1.5 115,3 117.5,4.2 119,5.2 116.7,7 113.5,3.5",
 "Philippines":"120.5,18.5 122.3,18.3 122,16 124,13 120.5,14 120,16.3|122,7 125.5,9.5 126.5,7 125.3,5.7 123.7,7.6|122,11.8 125,12.5 125.5,10.2 123,9.2|117.2,8.4 119.5,11.3 119,10",
 "Australia":"113,-22 112,-26 114.5,-32 114,-34.4 117.3,-35 124,-33 129,-31.7 134,-32.7 136,-35 138.3,-35 140,-38 143.5,-38.8 146.2,-39 149.7,-37.4 150.7,-34 152.6,-31 153,-28 152.7,-25 149.5,-22 146.3,-19 145.3,-15 143.5,-14 142.5,-10.8 141.7,-13 141,-16 139.5,-17.5 136,-15.8 135.5,-15 136.8,-12.2 132.5,-11.3 130.8,-12.5 129.5,-15 127,-14 125,-15.5 122,-18 119,-20|144.7,-40.8 148.3,-40.9 148,-43 146.5,-43.6 145.3,-42.5",
 "New Zealand":"172.5,-34.5 175,-37 177.8,-37.7 176.3,-40 174.8,-41.5 174.4,-39.8|172.4,-40.6 173.8,-41.7 170.6,-45 169.6,-46.4 166,-46 168,-44",
 "New Caledonia":"164,-20.2 167,-22.3 165.5,-21.8",
 "Solomon Islands":"156.5,-6.7 159.8,-8.3 157.5,-7.7|160,-9.2 162,-10.6 160.5,-9.8",
 "Vanuatu":"166.7,-15 167.8,-16 167,-15.9",
 "Fiji":"177.3,-17.5 178.6,-17.8 177.8,-18.2"
};

// enclaves go on top of the country round them
const enclaves = {
 "Lesotho":"27.2,-29.6 28.5,-28.7 29.4,-29.5 28,-30.6",
 "Eswatini":"31,-25.8 32,-26 32,-27 31,-27.2"
};

const svg = d3.select("#chart");

// Robinson table, every 5 degrees
const robLat = d3.range(0, 95, 5);
const robA = [1,.9986,.9954,.99,.9822,.973,.96,.9427,.9216,.8962,.8679,.835,.7986,.7597,.7186,.6732,.6213,.5722,.5322];
const robB = [0,.062,.124,.186,.248,.31,.372,.434,.4958,.5571,.6176,.6769,.7346,.7903,.8435,.8936,.9394,.9761,1];
const scaleA = d3.scaleLinear().domain(robLat).range(robA);
const scaleB = d3.scaleLinear().domain(robLat).range(robB);
const robinson = (lam, phi) => {
  const deg = Math.abs(phi) * 180 / Math.PI;
  return [0.864 * scaleA(deg) * lam, 1.3523 * Math.sign(phi) * scaleB(deg)];
};
const projection = d3.geoProjection(robinson).scale(169.1).translate([532, 325.6]).precision(0);
const geoPath = d3.geoPath(projection);

// parse rings and fix their winding so d3 doesn't fill the whole globe
function toFeature(name, text) {
  const polys = text.split("|").map(r => {
    const ring = r.trim().split(" ").map(p => p.split(",").map(Number));
    ring.push(ring[0]);
    if (d3.geoArea({type: "Polygon", coordinates: [ring]}) > 2 * Math.PI) ring.reverse();
    return [ring];
  });
  return {type: "Feature", properties: {name}, geometry: {type: "MultiPolygon", coordinates: polys}};
}

const yieldOf = new Map(countries.map((c, i) => [c, yields[i]]));
const color = d3.scaleThreshold().domain(binEdges).range(binColors);

// hatch
const defs = svg.append("defs");
const hatch = defs.append("pattern").attr("id", "noData")
  .attr("patternUnits", "userSpaceOnUse").attr("width", 7).attr("height", 7)
  .attr("patternTransform", "rotate(45)");
hatch.append("rect").attr("width", 7).attr("height", 7).attr("fill", "#fff");
hatch.append("rect").attr("width", 1.7).attr("height", 7).attr("fill", "#e0e0e0");

// header
svg.append("text").attr("x", 24).attr("y", 58)
  .style("font-family", "'Liberation Serif', serif").style("font-weight", 700)
  .style("font-size", "39.5px").attr("fill", "#363636").text("Millet yields, 2023");
svg.append("text").attr("x", 24).attr("y", 97).style("font-size", "24px")
  .attr("fill", "#5b5b5b").text("Yields are measured in tonnes per hectare.");

// logo
const logo = svg.append("g");
logo.append("rect").attr("x", 1079).attr("y", 24).attr("width", 97).attr("height", 54).attr("fill", "#002147");
logo.append("rect").attr("x", 1079).attr("y", 73.5).attr("width", 97).attr("height", 4.5).attr("fill", "#ce261e");
logo.append("text").attr("text-anchor", "middle").attr("fill", "#fff")
  .style("font-size", "17.8px").style("font-weight", 700)
  .selectAll("tspan").data(["Our World", "in Data"]).join("tspan")
  .attr("x", 1127.5).attr("y", (d, i) => 46 + i * 18).text(d => d);

// map: no data first, then coloured countries, then enclaves
const features = Object.entries(outlines).map(([n, t]) => toFeature(n, t));
const ordered = d3.sort(features, f => yieldOf.has(f.properties.name) ? 1 : 0)
  .concat(Object.entries(enclaves).map(([n, t]) => toFeature(n, t)));

svg.append("g").selectAll("path").data(ordered).join("path")
  .attr("d", geoPath)
  .attr("fill", d => yieldOf.has(d.properties.name) ? color(yieldOf.get(d.properties.name)) : "url(#noData)")
  .attr("stroke", d => yieldOf.has(d.properties.name) ? "#8f9296" : "#d4d4d4")
  .attr("stroke-width", 0.8)
  .attr("stroke-linejoin", "round");

// legend
const legendY = 528, legendH = 19;
const binX = d3.scaleLinear().domain([0, 5]).range([352, 864.5]);
const stepW = binX(1) - binX(0);
const legend = svg.append("g");

legend.selectAll("rect.bin").data(binColors.slice(0, 5)).join("rect").attr("class", "bin")
  .attr("x", (d, i) => binX(i)).attr("y", legendY).attr("width", stepW).attr("height", legendH)
  .attr("fill", d => d);
legend.append("path")
  .attr("d", d3.line()([[binX(5), legendY], [960, legendY], [967, legendY + legendH / 2], [960, legendY + legendH], [binX(5), legendY + legendH]]))
  .attr("fill", binColors[5]);
legend.append("path").attr("fill", "none").attr("stroke", "#c4c4c4").attr("stroke-width", 1)
  .attr("d", `M352,${legendY}H${binX(5)}M352,${legendY + legendH}H${binX(5)}`);
legend.selectAll("line.tick").data(legendTicks).join("line").attr("class", "tick")
  .attr("x1", (d, i) => binX(i)).attr("x2", (d, i) => binX(i))
  .attr("y1", legendY - 5).attr("y2", legendY + legendH)
  .attr("stroke", "#7c7f86").attr("stroke-width", 0.8);
legend.selectAll("text.tick").data(legendTicks).join("text").attr("class", "tick")
  .attr("x", (d, i) => binX(i)).attr("y", 516).attr("text-anchor", "middle")
  .attr("fill", "#5b5b5b").style("font-size", "23.5px").text(d => d);

legend.append("rect").attr("x", 233).attr("y", legendY).attr("width", 83).attr("height", legendH)
  .attr("fill", "url(#noData)").attr("stroke", "#bcbcbc").attr("stroke-width", 1);
legend.append("line").attr("x1", 274.5).attr("x2", 274.5).attr("y1", legendY - 5).attr("y2", legendY)
  .attr("stroke", "#9a9a9a").attr("stroke-width", 0.8);
legend.append("text").attr("x", 274).attr("y", 516).attr("text-anchor", "middle")
  .attr("fill", "#5b5b5b").style("font-size", "23.5px").text("No data");

// footer
const src = svg.append("text").attr("x", 24).attr("y", 598).style("font-size", "21px").attr("fill", "#5b5b5b");
src.append("tspan").style("font-weight", 700).text("Data source:");
src.append("tspan").text(" Food and Agriculture Organization of the United Nations (2025)");
svg.append("text").attr("x", 1170).attr("y", 598).attr("text-anchor", "end")
  .style("font-size", "21px").attr("fill", "#5b5b5b").text("CC BY");
</script>
</body>
</html>
